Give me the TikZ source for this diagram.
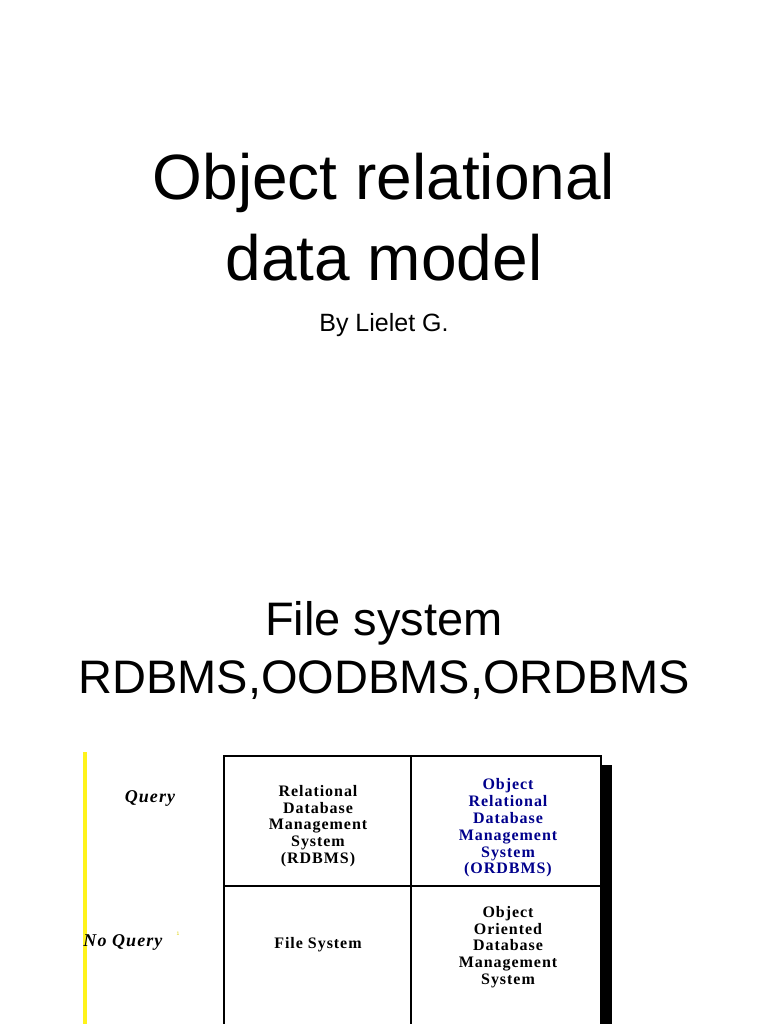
\documentclass[tikz,border=0pt]{standalone}
\usepackage{fontspec}
\setmainfont{Liberation Sans}
\newfontfamily\tserif[LetterSpace=6]{Liberation Serif}
\begin{document}
\begin{tikzpicture}[x=1pt,y=-1pt,
  title/.style={font=\fontsize{64}{70}\selectfont,align=center},
  cell/.style={font=\tserif\bfseries\fontsize{16}{16.8}\selectfont,align=center},
  lab/.style={font=\tserif\bfseries\itshape\fontsize{18}{20}\selectfont}]
\useasboundingbox (0,0) rectangle (768,1024);
\fill[white] (0,0) rectangle (768,1024);
\node[title] (t1) at (384,183) {Object relational};
\node[title] (t2) at (384,258) {data model};
\node[font=\fontsize{25}{28}\selectfont] (by) at (384,325) {By Lielet G.};
\node[title,font=\fontsize{47}{52}\selectfont] (f1) at (384,623) {File system};
\node[title,font=\fontsize{47}{52}\selectfont] (f2) at (384,680) {RDBMS,OODBMS,ORDBMS};
\fill[yellow!90!white] (83,752) rectangle (87,1024);
\fill[black] (601,765) rectangle (612,1024);
\draw[line width=1.2pt] (224,1024) -- (224,756) -- (601,756) -- (601,1024);
\draw[line width=1.2pt] (411,756) -- (411,1024);
\draw[line width=1.2pt] (224,886) -- (601,886);
\node[lab] (q) at (150,798) {Query};
\node[lab,anchor=east] (nq) at (166,942) {No Query};
\node[font=\tiny,text=yellow!70!olive] (sup) at (178,934) {1};
\node[cell] (c1) at (318,826) {Relational\\Database\\Management\\System\\(RDBMS)};
\node[cell,text=blue!55!black] (c2) at (508,828) {Object\\Relational\\Database\\Management\\System\\(ORDBMS)};
\node[cell] (c3) at (318,945) {File System};
\node[cell] (c4) at (508,947) {Object\\Oriented\\Database\\Management\\System};
\end{tikzpicture}
\end{document}
